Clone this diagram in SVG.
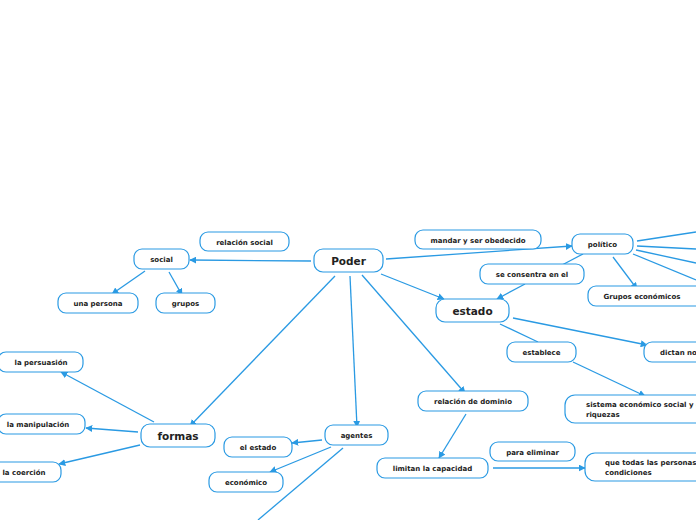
<svg xmlns="http://www.w3.org/2000/svg" width="696" height="520" viewBox="0 0 696 520">
<defs>
<style>
.n rect{fill:#fff;stroke:#2a9ae3;stroke-width:1.2}
.n text{font-family:"DejaVu Sans",sans-serif;font-weight:bold;font-size:7px;fill:#222;text-anchor:middle}
.n text.b{font-size:10.5px}
.n text.l{text-anchor:start}
#c line{stroke:#2a9ae3;stroke-width:1.3}
</style>
<marker id="a" viewBox="0 0 10 10" refX="9" refY="5" markerWidth="7" markerHeight="7" orient="auto" markerUnits="userSpaceOnUse"><path d="M0,0L10,5L0,10z" fill="#2a9ae3"/></marker>
</defs>
<rect width="696" height="520" fill="#fff"/>
<g id="c">
<line x1="311" y1="261" x2="190" y2="260" marker-end="url(#a)"/>
<line x1="145" y1="271" x2="112" y2="294" marker-end="url(#a)"/>
<line x1="169" y1="272" x2="182" y2="295" marker-end="url(#a)"/>
<line x1="386" y1="259" x2="572" y2="246" marker-end="url(#a)"/>
<line x1="583" y1="254" x2="562" y2="265"/>
<line x1="525" y1="284" x2="497" y2="299" marker-end="url(#a)"/>
<line x1="613" y1="257" x2="637" y2="289" marker-end="url(#a)"/>
<line x1="637" y1="241" x2="696" y2="232"/>
<line x1="637" y1="246" x2="696" y2="249"/>
<line x1="636" y1="250" x2="696" y2="263"/>
<line x1="633" y1="254" x2="696" y2="280"/>
<line x1="381" y1="274" x2="444" y2="299" marker-end="url(#a)"/>
<line x1="500" y1="324" x2="538" y2="342"/>
<line x1="573" y1="362" x2="645" y2="396" marker-end="url(#a)"/>
<line x1="513" y1="318" x2="647" y2="345" marker-end="url(#a)"/>
<line x1="362" y1="275" x2="465" y2="393" marker-end="url(#a)"/>
<line x1="466" y1="414" x2="439" y2="458" marker-end="url(#a)"/>
<line x1="493" y1="468" x2="585" y2="468" marker-end="url(#a)"/>
<line x1="335" y1="276" x2="190" y2="426" marker-end="url(#a)"/>
<line x1="350" y1="276" x2="357" y2="427" marker-end="url(#a)"/>
<line x1="154" y1="422" x2="61" y2="372" marker-end="url(#a)"/>
<line x1="138" y1="432" x2="86" y2="428" marker-end="url(#a)"/>
<line x1="140" y1="445" x2="59" y2="464" marker-end="url(#a)"/>
<line x1="322" y1="440" x2="292" y2="443" marker-end="url(#a)"/>
<line x1="331" y1="447" x2="270" y2="472" marker-end="url(#a)"/>
<line x1="343" y1="448" x2="258" y2="520"/>
</g>
<g id="poder" class="n"><rect x="314" y="249" width="69" height="23" rx="9"/><text class="b" x="348.5" y="264.5">Poder</text></g>
<g id="relsocial" class="n"><rect x="200" y="232" width="89" height="19" rx="8"/><text x="244.5" y="244.5">relación social</text></g>
<g id="social" class="n"><rect x="134" y="249" width="55" height="20" rx="8"/><text x="161.5" y="261.5">social</text></g>
<g id="unapersona" class="n"><rect x="58" y="293" width="80" height="20" rx="8"/><text x="98" y="305.5">una persona</text></g>
<g id="grupos" class="n"><rect x="156" y="293" width="59" height="20" rx="8"/><text x="185.5" y="305.5">grupos</text></g>
<g id="mandar" class="n"><rect x="415" y="230" width="126" height="19" rx="8"/><text x="478" y="242.5">mandar y ser obedecido</text></g>
<g id="politico" class="n"><rect x="572" y="234" width="61" height="20" rx="8"/><text x="602.5" y="246.5">político</text></g>
<g id="consentra" class="n"><rect x="480" y="264" width="104" height="20" rx="8"/><text x="532" y="276.5">se consentra en el</text></g>
<g id="grupeco" class="n"><rect x="588" y="286" width="116" height="20" rx="8"/><text x="642" y="298.5">Grupos  económicos</text></g>
<g id="estado" class="n"><rect x="436" y="299" width="73" height="23" rx="9"/><text class="b" x="472.5" y="314.5">estado</text></g>
<g id="establece" class="n"><rect x="507" y="342" width="69" height="20" rx="8"/><text x="541.5" y="354.5">establece</text></g>
<g id="dictan" class="n"><rect x="644" y="342" width="70" height="20" rx="8"/><text class="l" x="660" y="354.5">dictan no</text></g>
<g id="sistema" class="n"><rect x="565" y="395" width="145" height="28" rx="10"/><text class="l" x="586" y="407">sistema económico social y d</text><text class="l" x="586" y="416.5">riquezas</text></g>
<g id="reldominio" class="n"><rect x="418" y="391" width="110" height="20" rx="8"/><text x="473" y="403.5">relación de dominio</text></g>
<g id="limitan" class="n"><rect x="377" y="458" width="111" height="20" rx="8"/><text x="432.5" y="470.5">limitan la capacidad</text></g>
<g id="paraelim" class="n"><rect x="490" y="442" width="85" height="19" rx="8"/><text x="532.5" y="454.5">para eliminar</text></g>
<g id="quetodas" class="n"><rect x="585" y="453" width="125" height="28" rx="10"/><text class="l" x="605" y="465">que todas las personas</text><text class="l" x="605" y="474.5">condiciones</text></g>
<g id="formas" class="n"><rect x="141" y="424" width="74" height="23" rx="9"/><text class="b" x="178" y="439.5">formas</text></g>
<g id="persuasion" class="n"><rect x="-2" y="352" width="85" height="20" rx="8"/><text x="41" y="364.5">la persuasión</text></g>
<g id="manipulacion" class="n"><rect x="-2" y="414" width="87" height="20" rx="8"/><text x="38" y="426.5">la manipulación</text></g>
<g id="coercion" class="n"><rect x="-10" y="462" width="71" height="20" rx="8"/><text x="24" y="474.5">la coerción</text></g>
<g id="agentes" class="n"><rect x="325" y="425" width="63" height="20" rx="8"/><text x="356.5" y="437.5">agentes</text></g>
<g id="elestado" class="n"><rect x="224" y="437" width="68" height="20" rx="8"/><text x="258" y="449.5">el estado</text></g>
<g id="economico" class="n"><rect x="209" y="472" width="74" height="20" rx="8"/><text x="246" y="484.5">económico</text></g>
</svg>
